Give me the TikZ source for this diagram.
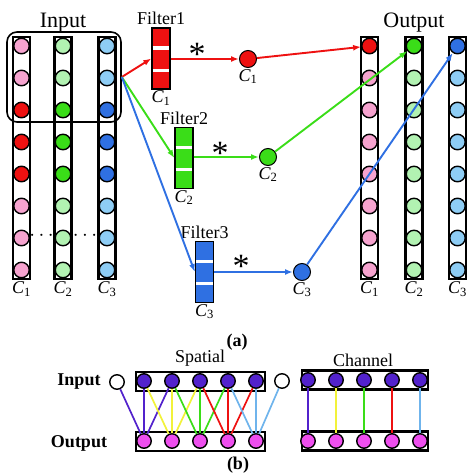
\documentclass[tikz,border=0pt]{standalone}
\usepackage{fontspec}
\setmainfont{Liberation Serif}
\usetikzlibrary{arrows.meta,positioning,calc}
\definecolor{pinkc}{HTML}{F6A3CF}
\definecolor{redc}{HTML}{EE1111}
\definecolor{lgreen}{HTML}{B2F2B2}
\definecolor{greenc}{HTML}{3ADD18}
\definecolor{lblue}{HTML}{8ECDF5}
\definecolor{bluec}{HTML}{2F70E2}
\definecolor{violetc}{HTML}{5222CC}
\definecolor{magentac}{HTML}{EE4EEE}
\definecolor{yellowc}{HTML}{F2F23A}
\definecolor{skyc}{HTML}{6FB4EC}
\newcommand{\chan}[1]{\textit{C}\textsubscript{#1}}

\begin{document}
\begin{tikzpicture}[x=1pt, y=-1pt,
  strip/.style = {shape=rectangle, draw, line width=2.6pt, fill=white, inner sep=0pt, minimum width=17pt, minimum height=242pt},
  row/.style = {shape=rectangle, draw, line width=2.6pt, fill=white, inner sep=0pt, minimum height=19pt},
  cell/.style = {shape=circle, draw, line width=1.4pt, inner sep=0pt, minimum size=15.5pt},
  filt/.style = {shape=rectangle, draw, line width=1.3pt, inner sep=0pt, minimum width=18pt, minimum height=61pt},
  res/.style = {shape=circle, draw, line width=1pt, inner sep=0pt, minimum size=17pt},
  conn/.style = {line width=1.9pt, -{Latex[length=8pt,width=6pt]}},
  link/.style = {line width=1.7pt},
  lbl/.style = {font=\fontsize{18}{20}\selectfont, inner sep=1pt},
  big/.style = {font=\fontsize{22}{24}\selectfont, inner sep=1pt},
  star/.style = {font=\fontsize{34}{34}\selectfont, inner sep=0pt, anchor=north}]
\useasboundingbox (0,0) rectangle (474,474);

% (a) input and output columns
\foreach \c/\x/\la/\da in {1/21.5/pinkc/redc, 2/63/lgreen/greenc, 3/107/lblue/bluec} {
  \node[strip] (in\c) at (\x,158) {};
  \foreach \r/\f in {1/\la, 2/\la, 3/\da, 4/\da, 5/\da, 6/\la, 7/\la, 8/\la}
    \node[cell, fill=\f] (i\c\r) at (\x,14+32*\r) {};
  \node[lbl, below=0pt of in\c] {\chan{\c}};
}
\foreach \c/\x/\la/\da in {1/369.5/pinkc/redc, 2/414/lgreen/greenc, 3/457.5/lblue/bluec} {
  \node[strip] (out\c) at (\x,158) {};
  \node[cell, fill=\da] (o\c1) at (\x,46) {};
  \foreach \r in {2,...,8}
    \node[cell, fill=\la] (o\c\r) at (\x,14+32*\r) {};
  \node[lbl, below=0pt of out\c] {\chan{\c}};
}
\node[draw, line width=1.6pt, rounded corners=10pt, minimum width=114pt, minimum height=90pt] (win) at (64,77) {};
\node[big, above=2pt of in2] {Input};
\node[big, above=2pt of out2] {Output};
\node[big] at (41.5,236) {$\cdots$};
\node[big] at (85,236) {$\cdots$};

% filters and results
\node[filt, fill=redc] (f1) at (161,58.5) {};
\node[filt, fill=greenc] (f2) at (184,158) {};
\node[filt, fill=bluec] (f3) at (204.5,272) {};
\foreach \f in {f1,f2,f3} {
  \draw[white, line width=3.2pt] ($(\f.north west)!0.33!(\f.south west)+(1.2,0)$) -- ($(\f.north east)!0.33!(\f.south east)+(-1.2,0)$);
  \draw[white, line width=3.2pt] ($(\f.north west)!0.69!(\f.south west)+(1.2,0)$) -- ($(\f.north east)!0.69!(\f.south east)+(-1.2,0)$);
}
\node[lbl, above=1pt of f1] {Filter1};
\node[lbl, above=1pt of f2] {Filter2};
\node[lbl, above=1pt of f3] {Filter3};
\node[lbl, below=0pt of f1] {\chan{1}};
\node[lbl, below=0pt of f2] {\chan{2}};
\node[lbl, below=0pt of f3] {\chan{3}};
\node[res, fill=redc] (r1) at (248,59) {};
\node[res, fill=greenc] (r2) at (268,157) {};
\node[res, fill=bluec] (r3) at (302,272) {};
\node[lbl, below=0pt of r1] {\chan{1}};
\node[lbl, below=0pt of r2] {\chan{2}};
\node[lbl, below=0pt of r3] {\chan{3}};
\node[star] at (197,43) {*};
\node[star] at (220,142) {*};
\node[star] at (241,255) {*};

\draw[conn, redc] (win.east) -- (f1.west);
\draw[conn, greenc] (win.east) -- (f2.west);
\draw[conn, bluec] (win.east) -- (f3.west);
\draw[conn, redc] (f1.east |- r1) -- (r1);
\draw[conn, greenc] (f2.east |- r2) -- (r2);
\draw[conn, bluec] (f3.east |- r3) -- (r3);
\draw[conn, redc] (r1) -- (o11);
\draw[conn, greenc] (r2) -- (o21);
\draw[conn, bluec] (r3) -- (o31);
\node[lbl, font=\fontsize{18}{20}\selectfont\bfseries] at (237,342) {(a)};

% (b) spatial and channel
\node[row, minimum width=129pt] (sin) at (200.5,381.5) {};
\node[row, minimum width=129pt] (sout) at (200.5,441.5) {};
\node[row, minimum width=126pt] (cin) at (365,380) {};
\node[row, minimum width=126pt] (cout) at (365,441) {};
\node[cell, fill=white, minimum size=14.5pt] (a0) at (117,382) {};
\node[cell, fill=white, minimum size=14.5pt] (a6) at (282,381) {};
\foreach \k in {1,...,5} {
  \node[cell, fill=violetc, minimum size=14.5pt] (a\k) at (116+28*\k,381) {};
  \node[cell, fill=magentac, minimum size=14.5pt] (b\k) at (116+28*\k,441) {};
  \node[cell, fill=violetc, minimum size=14.5pt] (c\k) at (280+28*\k,380) {};
  \node[cell, fill=magentac, minimum size=14.5pt] (d\k) at (280+28*\k,441) {};
}
\foreach \k/\col [evaluate=\k as \p using int(\k-1), evaluate=\k as \n using int(\k+1)] in {1/violetc, 2/yellowc, 3/greenc, 4/redc, 5/skyc} {
  \draw[link, \col] (a\p) -- (b\k) (a\k) -- (b\k) (a\n) -- (b\k);
  \draw[link, \col] (c\k) -- (d\k);
}
\node[lbl] at (200,358) {Spatial};
\node[lbl] at (363,360) {Channel};
\node[lbl, font=\fontsize{18}{20}\selectfont\bfseries] at (79,382) {Input};
\node[lbl, font=\fontsize{18}{20}\selectfont\bfseries] at (79,443) {Output};
\node[lbl, font=\fontsize{18}{20}\selectfont\bfseries] at (238,465) {(b)};
\end{tikzpicture}
\end{document}
